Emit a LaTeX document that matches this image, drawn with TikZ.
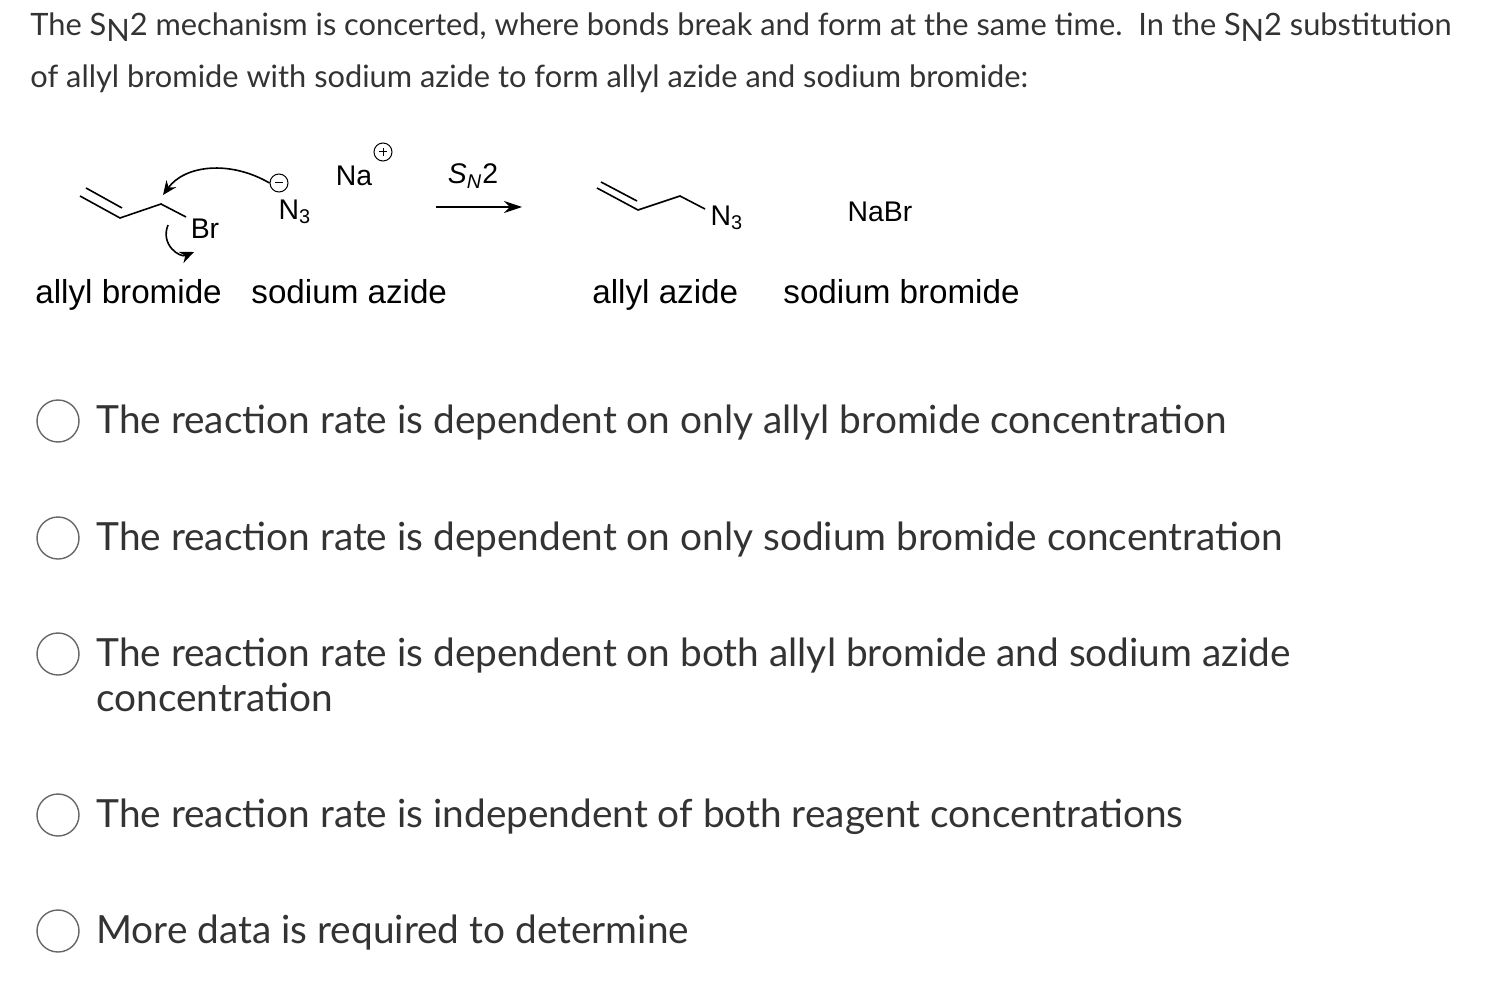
\documentclass[tikz,border=0pt]{standalone}
\usepackage{fontspec}
\setmainfont{Lato}
\newfontfamily\arial{Liberation Sans}
\usetikzlibrary{arrows.meta}
\begin{document}
\begin{tikzpicture}[x=0.5pt,y=-0.5pt,
  hdr/.style={anchor=base west,inner sep=0,font=\fontsize{15.4}{18}\selectfont,text=black!80},
  opt/.style={anchor=base west,inner sep=0,font=\fontsize{19.4}{23}\selectfont,text=black!80},
  lab/.style={anchor=base west,inner sep=0,font=\arial\fontsize{16.6}{19}\selectfont},
  mol/.style={inner sep=0,font=\arial\fontsize{14.2}{16}\selectfont},
  bond/.style={line width=0.8pt},
  radio/.style={draw=black!60,line width=0.7pt,circle,minimum size=21pt,inner sep=0}]
\useasboundingbox (0,0) rectangle (1498,1000);
\node[hdr] (h1) at (30,36) {The S\raisebox{-0.35ex}{N}2 mechanism is concerted, where bonds break and form at the same time.\ \ In the S\raisebox{-0.35ex}{N}2 substitution};
\node[hdr] (h2) at (30,88) {of allyl bromide with sodium azide to form allyl azide and sodium bromide:};
% allyl bromide
\coordinate (a1) at (80,196); \coordinate (a2) at (120,218); \coordinate (a3) at (161,204);
\draw[bond] (a1) -- (a2) -- (a3) -- (186,217);
\draw[bond] (86,188) -- (122,208);
\node[mol] (br) at (205,229) {Br};
\node[mol] (n3a) at (295,212) {N\textsubscript{3}};
\node[draw,circle,inner sep=0,minimum size=9pt,line width=0.5pt] (minus) at (279,183) {};
\draw[line width=0.5pt] (275,183) -- (283,183);
\node[mol] (na) at (354,176) {Na};
\node[draw,circle,inner sep=0,minimum size=9pt,line width=0.5pt] (plus) at (383,152) {};
\draw[line width=0.5pt] (379,152) -- (387,152) (383,148) -- (383,156);
\draw[bond,-{Stealth[length=7pt,width=6pt]}] (minus.west) .. controls (230,160) and (185,165) .. (163,195);
\draw[bond,-{Stealth[length=7pt,width=6pt]}] (168,225) .. controls (160,245) and (180,258) .. (194,252);
\node[mol] (sn2) at (473,176) {\textit{S\textsubscript{N}}2};
\coordinate (r1) at (436,207); \coordinate (r2) at (522,207);
\draw[bond,-{Stealth[length=9pt,width=6pt]}] (r1) -- (r2);
% product
\coordinate (p1) at (597,188); \coordinate (p2) at (638,210); \coordinate (p3) at (680,196);
\draw[bond] (p1) -- (p2) -- (p3) -- (705,209);
\draw[bond] (601,182) -- (637,201);
\node[mol] (n3b) at (727,218) {N\textsubscript{3}};
\node[mol] (nabr) at (880,212) {NaBr};
\node[lab] (l1) at (35,303) {allyl bromide};
\node[lab] (l2) at (251,303) {sodium azide};
\node[lab] (l3) at (592,303) {allyl azide};
\node[lab] (l4) at (783,303) {sodium bromide};
% options
\node[radio] (c1) at (58,421) {}; \node[opt] (o1) at (96,433) {The reaction rate is dependent on only allyl bromide concentration};
\node[radio] (c2) at (58,538) {}; \node[opt] (o2) at (96,550) {The reaction rate is dependent on only sodium bromide concentration};
\node[radio] (c3) at (58,654) {}; \node[opt] (o3) at (96,666) {The reaction rate is dependent on both allyl bromide and sodium azide};
\node[opt] (o3b) at (96,711) {concentration};
\node[radio] (c4) at (58,815) {}; \node[opt] (o4) at (96,827) {The reaction rate is independent of both reagent concentrations};
\node[radio] (c5) at (58,931) {}; \node[opt] (o5) at (96,943) {More data is required to determine};
\end{tikzpicture}
\end{document}
